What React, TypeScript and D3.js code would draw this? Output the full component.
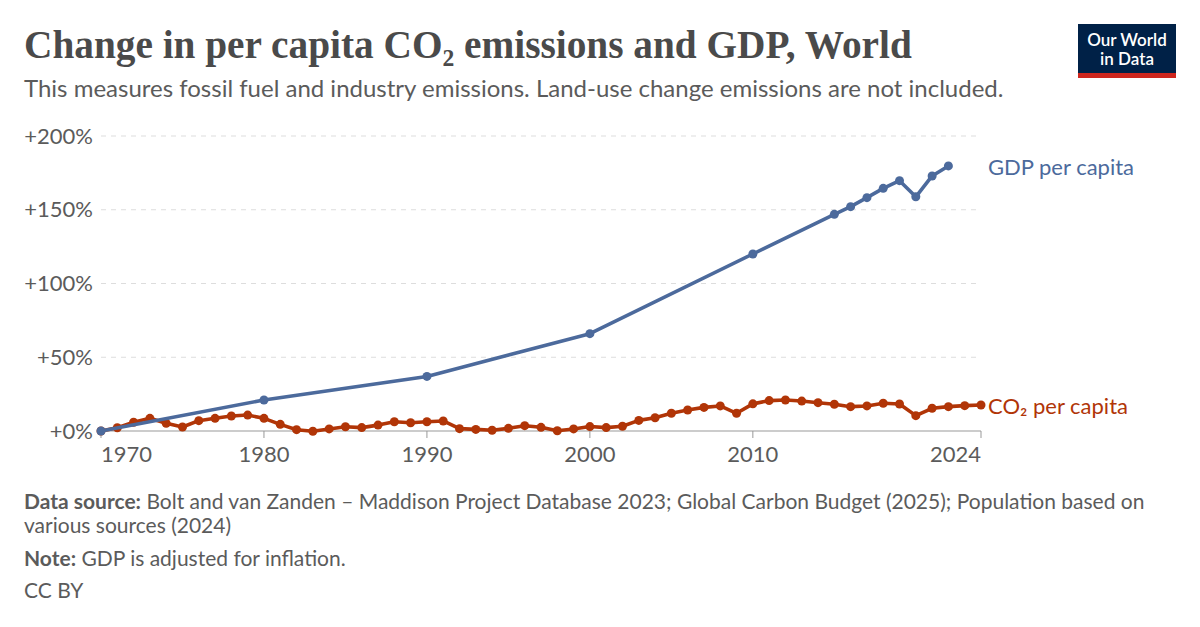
import React, { useEffect, useRef } from "react";
import * as d3 from "d3";

// GDP per capita, % change since 1970
const gdpYears = [1970, 1980, 1990, 2000, 2010, 2015, 2016, 2017, 2018, 2019, 2020, 2021, 2022];
const gdpChange = [0, 21, 37, 66, 120, 146.9, 152.1, 158.2, 164.5, 169.7, 158.8, 172.9, 179.7];

// CO2 per capita, % change since 1970 (annual)
const co2Years = d3.range(1970, 2025);
const co2Change = [
  0, 2.2, 5.9, 8.6, 5.2, 2.7, 7, 8.6, 10.2, 10.8,
  8.6, 4.5, 0.9, -0.2, 1.4, 2.9, 2.3, 4, 6.3, 5.6,
  6.3, 6.8, 1.6, 1.1, 0.5, 1.8, 3.6, 2.5, 0.2, 1.4,
  3, 2.3, 3.2, 7.2, 9, 12, 14.2, 16, 17, 12,
  18.4, 20.6, 21, 20.3, 19.2, 18.1, 16.5, 17, 18.8, 18.3,
  10.4, 15.4, 16.5, 17.2, 17.6,
];

const yTicks = [0, 50, 100, 150, 200];
const xTicks = [1970, 1980, 1990, 2000, 2010, 2024];

const GDP_COLOR = "#4c6a9c";
const CO2_COLOR = "#b13507";
const TEXT = "#5b5b5b";

export default function App() {
  const svgRef = useRef<SVGSVGElement>(null);

  useEffect(() => {
    const width = 1200;
    const height = 627;
    const svg = d3.select(svgRef.current).attr("width", width).attr("height", height);
    svg.selectAll("*").remove();

    svg.append("rect").attr("width", width).attr("height", height).attr("fill", "#fff");

    const x = d3.scaleLinear().domain([1970, 2024]).range([101, 981]);
    const y = d3.scaleLinear().domain([0, 200]).range([431, 136]);

    // title + subtitle
    svg
      .append("text")
      .attr("x", 24)
      .attr("y", 58)
      .attr("font-family", "'Liberation Serif', serif")
      .attr("font-weight", 700)
      .attr("font-size", 39.3)
      .attr("fill", "#4a4a4a")
      .text("Change in per capita CO₂ emissions and GDP, World");

    svg
      .append("text")
      .attr("x", 24)
      .attr("y", 97)
      .attr("font-family", "Lato, sans-serif")
      .attr("font-size", 24)
      .attr("fill", TEXT)
      .text("This measures fossil fuel and industry emissions. Land-use change emissions are not included.");

    // logo
    const logo = svg.append("g").attr("transform", "translate(1078,24)");
    logo.append("rect").attr("width", 98).attr("height", 54).attr("fill", "#002147");
    logo.append("rect").attr("y", 49).attr("width", 98).attr("height", 5).attr("fill", "#ce261e");
    logo
      .selectAll("text.l")
      .data(["Our World", "in Data"])
      .join("text")
      .attr("x", 49)
      .attr("y", (d, i) => 22 + i * 19)
      .attr("text-anchor", "middle")
      .attr("font-family", "Lato, sans-serif")
      .attr("font-weight", 600)
      .attr("font-size", 17)
      .attr("fill", "#fff")
      .text((d) => d);

    // grid + y labels
    const grid = svg.append("g");
    grid
      .selectAll("line")
      .data(yTicks.filter((d) => d > 0))
      .join("line")
      .attr("x1", 101)
      .attr("x2", 981)
      .attr("y1", (d) => y(d))
      .attr("y2", (d) => y(d))
      .attr("stroke", "#dddddd")
      .attr("stroke-dasharray", "5,5");
    grid
      .selectAll("text")
      .data(yTicks)
      .join("text")
      .attr("x", 93)
      .attr("y", (d) => y(d))
      .attr("dy", "0.35em")
      .attr("text-anchor", "end")
      .attr("font-family", "Lato, sans-serif")
      .attr("font-size", 22)
      .attr("fill", TEXT)
      .text((d) => `+${d}%`);

    // x axis
    const xAxis = svg.append("g");
    xAxis
      .append("line")
      .attr("x1", 101)
      .attr("x2", 981)
      .attr("y1", 431)
      .attr("y2", 431)
      .attr("stroke", "#999");
    xAxis
      .selectAll("line.tick")
      .data(xTicks)
      .join("line")
      .attr("class", "tick")
      .attr("x1", (d) => x(d))
      .attr("x2", (d) => x(d))
      .attr("y1", 431)
      .attr("y2", 438)
      .attr("stroke", "#999");
    xAxis
      .selectAll("text")
      .data(xTicks)
      .join("text")
      .attr("x", (d) => x(d))
      .attr("y", 462)
      .attr("text-anchor", (d, i) => (i === 0 ? "start" : i === xTicks.length - 1 ? "end" : "middle"))
      .attr("font-family", "Lato, sans-serif")
      .attr("font-size", 22)
      .attr("fill", TEXT)
      .text((d) => d);

    const line = d3
      .line<[number, number]>()
      .x((d) => x(d[0]))
      .y((d) => y(d[1]));

    const series = [
      { pts: co2Years.map((yr, i) => [yr, co2Change[i]] as [number, number]), color: CO2_COLOR },
      { pts: gdpYears.map((yr, i) => [yr, gdpChange[i]] as [number, number]), color: GDP_COLOR },
    ];

    series.forEach((s) => {
      const g = svg.append("g");
      g.append("path")
        .attr("d", line(s.pts))
        .attr("fill", "none")
        .attr("stroke", s.color)
        .attr("stroke-width", 3.6)
        .attr("stroke-linejoin", "round");
      g.selectAll("circle")
        .data(s.pts)
        .join("circle")
        .attr("cx", (d) => x(d[0]))
        .attr("cy", (d) => y(d[1]))
        .attr("r", 4.5)
        .attr("fill", s.color);
    });

    // end labels
    svg
      .append("text")
      .attr("x", 988)
      .attr("y", y(gdpChange[gdpChange.length - 1]) + 1)
      .attr("dy", "0.35em")
      .attr("font-family", "Lato, sans-serif")
      .attr("font-size", 22)
      .attr("fill", GDP_COLOR)
      .text("GDP per capita");
    svg
      .append("text")
      .attr("x", 988)
      .attr("y", y(co2Change[co2Change.length - 1]) + 1)
      .attr("dy", "0.35em")
      .attr("font-family", "Lato, sans-serif")
      .attr("font-size", 22)
      .attr("fill", CO2_COLOR)
      .text("CO₂ per capita");

    // footer
    const foot = svg
      .append("g")
      .attr("font-family", "Lato, sans-serif")
      .attr("font-size", 21)
      .attr("fill", TEXT);
    const src = foot.append("text").attr("x", 24).attr("y", 509);
    src.append("tspan").attr("font-weight", 700).text("Data source:");
    src
      .append("tspan")
      .text(" Bolt and van Zanden – Maddison Project Database 2023; Global Carbon Budget (2025); Population based on");
    foot.append("text").attr("x", 24).attr("y", 533).text("various sources (2024)");
    const note = foot.append("text").attr("x", 24).attr("y", 566);
    note.append("tspan").attr("font-weight", 700).text("Note:");
    note.append("tspan").text(" GDP is adjusted for inflation.");
    foot.append("text").attr("x", 24).attr("y", 598).text("CC BY");
  }, []);

  return <svg ref={svgRef} style={{ position: "absolute", left: 0, top: 0 }}></svg>;
}
